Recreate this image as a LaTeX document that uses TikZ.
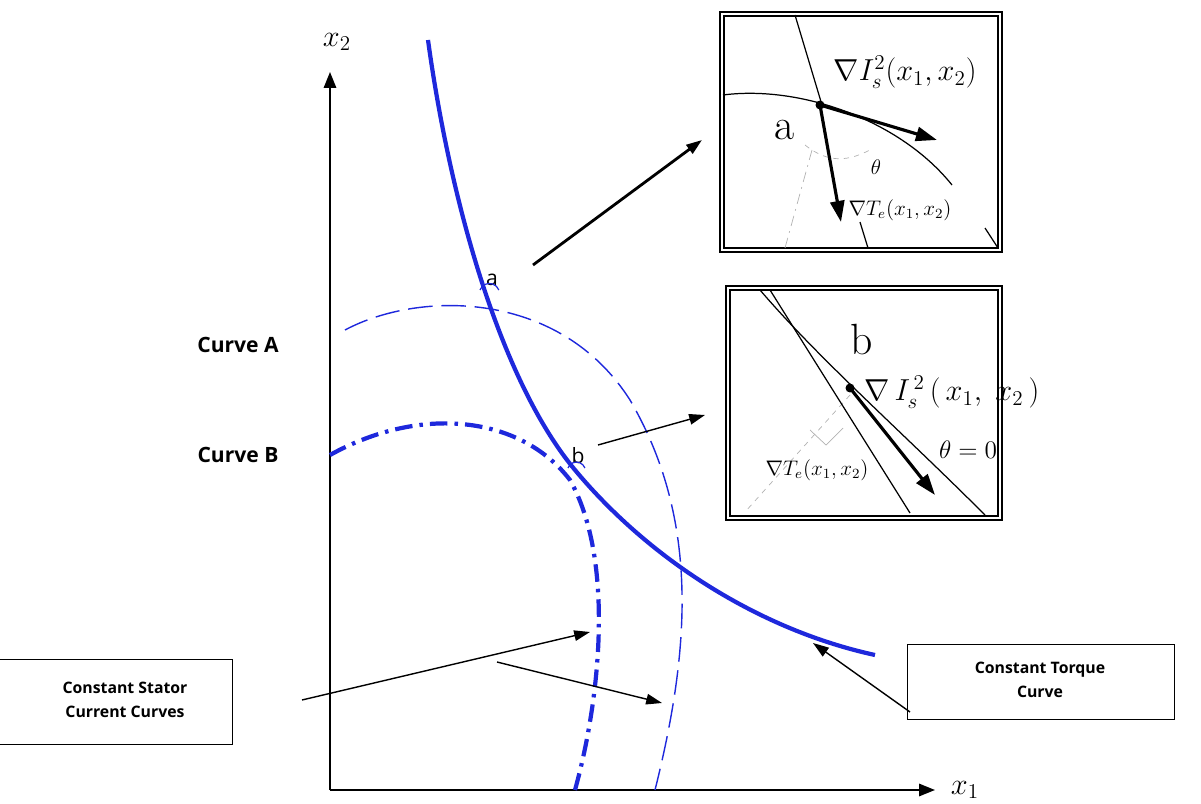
\documentclass[tikz,border=0pt]{standalone}
\usepackage{fontspec}
\newfontfamily\labfont{Open Sans}
\usetikzlibrary{arrows.meta}
\definecolor{cblue}{RGB}{30,40,220}
\begin{document}
\begin{tikzpicture}[x=0.02cm,y=-0.02cm,
  axis/.style={line width=1pt,-{Triangle[length=9pt,width=7pt]}},
  ptr/.style={line width=0.8pt,-{Triangle[length=9pt,width=6pt]}},
  bigptr/.style={line width=1.8pt,-{Triangle[length=12pt,width=8pt]}},
  lblbox/.style={draw,line width=0.8pt,inner sep=0pt},
  lbltext/.style={font=\labfont\bfseries\small,align=center},
  inset/.style={draw,double,double distance=1.5pt,line width=1pt,inner sep=0pt},
  thin/.style={line width=0.7pt}]
\useasboundingbox (0,0) rectangle (1201,804);
% axes
\coordinate (O) at (330,790);
\coordinate (Y) at (330,72);
\coordinate (X) at (935,790);
\draw[axis] (O) -- (Y);
\draw[axis] (O) -- (X);
\node (x2) at (337,42) {\LARGE$x_2$};
\node (x1) at (965,790) {\LARGE$x_1$};
% curves
\draw[cblue,line width=2.4pt] (428,40) .. controls (450,200) and (500,380) .. (575,470) .. controls (650,560) and (760,630) .. (875,655);
\draw[cblue,line width=0.8pt,dash pattern=on 14pt off 5pt] (345,330) .. controls (420,290) and (560,290) .. (630,400) .. controls (700,520) and (690,650) .. (655,790);
\draw[cblue,line width=2.4pt,dash pattern=on 10pt off 4pt on 2pt off 4pt] (330,455) .. controls (420,405) and (520,415) .. (570,480) .. controls (615,560) and (600,700) .. (575,790);
\node[font=\labfont\bfseries\large] (cA) at (238,345) {Curve A};
\node[font=\labfont\bfseries\large] (cB) at (238,455) {Curve B};
\node[font=\labfont\large] (la) at (492,280) {a};
\node[font=\labfont\large] (lb) at (578,456) {b};
\draw[cblue,thin] (480,290) arc (200:340:10);
\draw[cblue,thin] (568,468) arc (200:340:9);
% insets
\node[inset,minimum width=5.56cm,minimum height=4.72cm] (ia) at (861,132) {};
\node[inset,minimum width=5.44cm,minimum height=4.6cm] (ib) at (864,403) {};
\coordinate (sa) at (533,265);
\coordinate (sb) at (598,445);
\draw[ptr,line width=1.6pt] (sa) -- (702,140);
\draw[ptr] (sb) -- (705,415);
% inset a content
\draw[gray!60,dash pattern=on 6pt off 3pt on 1pt off 3pt] (785,248) -- (812,150);
\draw[gray!60,dashed] (805,145) .. controls (830,165) and (850,160) .. (870,150);
\draw[thin] (795,15) -- (822,105);
\draw[thin] (723,95) .. controls (800,85) and (900,120) .. (952,185);
\draw[thin] (985,228) -- (998,248);
\draw[thin] (860,222) -- (868,248);
\fill (820,105) circle (4.5);
\draw[bigptr] (820,105) -- (841,222);
\draw[bigptr] (820,105) -- (937,140);
\node (ga) at (905,72) {\LARGE$\nabla I_s^2(x_1,x_2)$};
\node (ta) at (876,167) {\large$\theta$};
\node (gta) at (900,210) {\large$\nabla T_e(x_1,x_2)$};
\node (aa) at (785,130) {\Huge a};
% inset b content
\draw[gray!60,dashed] (850,395) -- (745,512);
\draw[gray!60] (810,430) -- (826,445) -- (843,428);
\draw[thin] (770,290) -- (910,513);
\draw[thin] (760,290) .. controls (820,360) and (900,430) .. (985,515);
\fill (850,388) circle (4.5);
\draw[bigptr] (850,388) -- (935,495);
\node (bb) at (862,340) {\Huge b};
\node[anchor=west] (gb) at (858,392) {\LARGE$\nabla\, I_s^{\,2}\,(\,x_1,\;x_2\,)$};
\node (tb) at (968,450) {\Large$\theta=0$};
\node (gtb) at (817,470) {\large$\nabla T_e(x_1,x_2)$};
% label boxes
\node[lblbox,minimum width=4.7cm,minimum height=1.7cm] (scb) at (115,702) {};
\node[lbltext] (sct) at (125,700) {Constant Stator\\[3pt]Current Curves};
\node[lblbox,minimum width=5.34cm,minimum height=1.5cm] (tcb) at (1041,682) {};
\node[lbltext] (tct) at (1040,680) {Constant Torque\\[3pt]Curve};
\coordinate (s1) at (302,700);
\coordinate (br) at (497,662);
\coordinate (t1) at (910,712);
\draw[ptr] (s1) -- (590,632);
\draw[ptr] (br) -- (662,703);
\draw[ptr] (t1) -- (813,643);
\end{tikzpicture}
\end{document}
